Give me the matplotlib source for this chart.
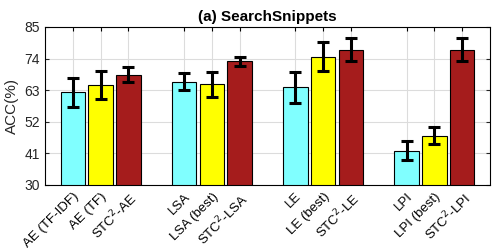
import numpy as np
import matplotlib
matplotlib.use("Agg")
import matplotlib.pyplot as plt
import matplotlib.transforms as mtransforms

plt.rcParams['font.family'] = ['Liberation Sans', 'DejaVu Sans']

labels = ["AE (TF-IDF)", "AE (TF)", "STC$^2$-AE",
          "LSA", "LSA (best)", "STC$^2$-LSA",
          "LE", "LE (best)", "STC$^2$-LE",
          "LPI", "LPI (best)", "STC$^2$-LPI"]
acc = [62.2, 64.7, 68.4,
       66.0, 65.1, 73.0,
       64.0, 74.7, 77.1,
       42.0, 47.2, 77.1]
err = [5.2, 4.9, 2.6,
       2.9, 4.3, 1.6,
       5.4, 5.1, 4.0,
       3.4, 3.0, 4.0]
colors = ["#80ffff", "#ffff00", "#a51c1c"] * 4
yticks = [30, 41, 52, 63, 74, 85]

# 3 bars per group, one empty slot between groups
pos = np.array([1, 2, 3, 5, 6, 7, 9, 10, 11, 13, 14, 15])

fig = plt.figure(figsize=(5, 2.5), dpi=100)
ax = fig.add_axes([0.09, 0.26, 0.89, 0.632])

ax.bar(pos, acc, width=0.88, color=colors, edgecolor="black", linewidth=0.8, zorder=2)
ax.errorbar(pos, acc, yerr=err, fmt="none", ecolor="black", elinewidth=2.2,
            capsize=4, capthick=2.2, zorder=3)

ax.set_xlim(0, 16)
ax.set_ylim(30, 85)
ax.set_yticks(yticks)
ax.set_xticks(pos)
ax.set_xticklabels(labels, rotation=45, ha="right", rotation_mode="anchor", fontsize=9.5)
# nudge rotated labels a little to the right, like the original
shift = mtransforms.ScaledTranslation(5 / 100, 0, fig.dpi_scale_trans)
for lab in ax.get_xticklabels():
    lab.set_transform(lab.get_transform() + shift)
ax.tick_params(axis="y", labelsize=10, colors="#262626")
ax.tick_params(direction="in", top=True, right=True, length=3)
ax.tick_params(axis="x", pad=4)
ax.grid(True, color="#dcdcdc", linewidth=0.8, zorder=0)
ax.set_axisbelow(True)
ax.set_ylabel("ACC(%)", fontsize=11, color="#262626")
ax.set_title("(a) SearchSnippets", fontsize=11, fontweight="bold", pad=4)

fig.savefig("out.png", dpi=100)
